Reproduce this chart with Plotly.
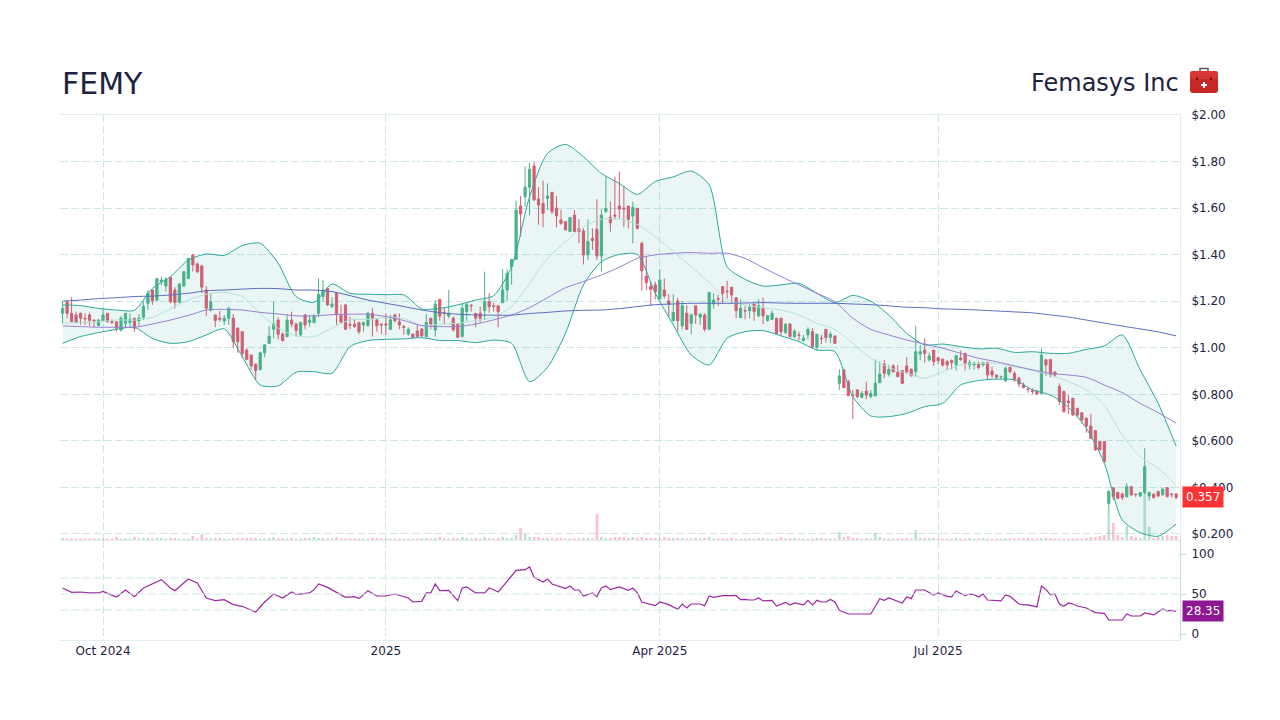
import base64
import pandas as pd
import plotly.graph_objects as go

# trading days
holidays = ["2024-11-28", "2024-12-25", "2025-01-01", "2025-01-09", "2025-01-20", "2025-02-17",
            "2025-04-18", "2025-05-26", "2025-06-19", "2025-07-04", "2025-09-01"]
days = pd.bdate_range("2024-09-18", "2025-09-16")
dates = [d.strftime("%Y-%m-%d") for d in days if d.strftime("%Y-%m-%d") not in holidays]

opens = [1.148, 1.198, 1.148, 1.141, 1.148, 1.127, 1.141, 1.119, 1.095, 1.117,
         1.148, 1.112, 1.111, 1.076, 1.105, 1.108, 1.127, 1.115, 1.131, 1.191,
         1.248, 1.205, 1.284, 1.265, 1.303, 1.248, 1.195, 1.265, 1.298, 1.399,
         1.36, 1.351, 1.248, 1.162, 1.141, 1.127, 1.115, 1.127, 1.127, 1.084,
         1.069, 0.99, 0.969, 0.93, 0.907, 0.979, 1.019, 1.079, 1.119, 1.059,
         1.048, 1.119, 1.102, 1.055, 1.141, 1.108, 1.108, 1.148, 1.22, 1.255,
         1.177, 1.234, 1.14, 1.184, 1.1, 1.101, 1.109, 1.098, 1.095, 1.148,
         1.12, 1.102, 1.102, 1.079, 1.141, 1.112, 1.091, 1.059, 1.059, 1.072,
         1.081, 1.048, 1.127, 1.076, 1.208, 1.15, 1.136, 1.127, 1.101, 1.048,
         1.155, 1.182, 1.148, 1.148, 1.16, 1.198, 1.18, 1.18, 1.194, 1.248,
         1.348, 1.38, 1.609, 1.649, 1.69, 1.781, 1.639, 1.62, 1.642, 1.668,
         1.6, 1.549, 1.542, 1.499, 1.57, 1.511, 1.502, 1.399, 1.47, 1.509,
         1.394, 1.585, 1.56, 1.57, 1.609, 1.6, 1.609, 1.566, 1.599, 1.449,
         1.308, 1.263, 1.27, 1.212, 1.248, 1.201, 1.117, 1.201, 1.094, 1.148,
         1.105, 1.18, 1.131, 1.141, 1.079, 1.188, 1.211, 1.263, 1.243, 1.26,
         1.215, 1.13, 1.16, 1.159, 1.188, 1.137, 1.17, 1.117, 1.122, 1.127,
         1.127, 1.065, 1.102, 1.048, 1.055, 1.031, 1.055, 1.069, 1.002, 1.041,
         1.079, 1.045, 1.051, 0.847, 0.905, 0.854, 0.797, 0.819, 0.787, 0.814,
         0.79, 0.794, 0.85, 0.93, 0.886, 0.922, 0.894, 0.902, 0.922, 0.907,
         0.897, 0.973, 0.99, 0.948, 0.99, 0.957, 0.95, 0.94, 0.945, 0.926,
         0.956, 0.976, 0.926, 0.926, 0.933, 0.926, 0.937, 0.9, 0.883, 0.875,
         0.857, 0.916, 0.89, 0.869, 0.84, 0.822, 0.815, 0.814, 0.804, 0.948,
         0.95, 0.896, 0.833, 0.812, 0.771, 0.783, 0.74, 0.721, 0.697, 0.664,
         0.644, 0.597, 0.597, 0.331, 0.399, 0.379, 0.372, 0.36, 0.403, 0.371,
         0.363, 0.378, 0.363, 0.371, 0.382, 0.368, 0.399, 0.372, 0.372]
closes = [1.169, 1.148, 1.112, 1.108, 1.127, 1.124, 1.117, 1.115, 1.119, 1.141,
          1.112, 1.108, 1.084, 1.127, 1.148, 1.122, 1.084, 1.127, 1.177, 1.234,
          1.202, 1.298, 1.291, 1.294, 1.198, 1.195, 1.274, 1.327, 1.384, 1.356,
          1.327, 1.26, 1.17, 1.198, 1.117, 1.122, 1.127, 1.169, 1.026, 1.026,
          0.976, 0.95, 0.922, 0.902, 0.979, 1.012, 1.05, 1.102, 1.058, 1.031,
          1.119, 1.102, 1.074, 1.109, 1.098, 1.119, 1.136, 1.229, 1.248, 1.184,
          1.188, 1.141, 1.11, 1.079, 1.097, 1.091, 1.069, 1.109, 1.148, 1.127,
          1.094, 1.098, 1.098, 1.12, 1.116, 1.098, 1.087, 1.079, 1.045, 1.048,
          1.051, 1.109, 1.102, 1.188, 1.136, 1.147, 1.148, 1.077, 1.045, 1.17,
          1.186, 1.18, 1.127, 1.127, 1.198, 1.177, 1.177, 1.155, 1.248, 1.32,
          1.38, 1.592, 1.575, 1.69, 1.767, 1.635, 1.613, 1.578, 1.652, 1.585,
          1.566, 1.535, 1.506, 1.56, 1.499, 1.499, 1.399, 1.456, 1.46, 1.394,
          1.57, 1.599, 1.537, 1.566, 1.595, 1.596, 1.552, 1.603, 1.513, 1.331,
          1.28, 1.251, 1.241, 1.291, 1.222, 1.188, 1.151, 1.117, 1.18, 1.079,
          1.141, 1.141, 1.145, 1.079, 1.238, 1.205, 1.209, 1.234, 1.241, 1.227,
          1.159, 1.17, 1.158, 1.174, 1.155, 1.18, 1.137, 1.138, 1.148, 1.062,
          1.069, 1.101, 1.048, 1.072, 1.053, 1.041, 1.079, 1.005, 1.058, 1.039,
          1.043, 1.058, 1.019, 0.879, 0.829, 0.794, 0.795, 0.79, 0.804, 0.797,
          0.804, 0.847, 0.887, 0.89, 0.907, 0.897, 0.876, 0.847, 0.897, 0.879,
          0.983, 0.983, 0.976, 0.965, 0.94, 0.945, 0.926, 0.926, 0.936, 0.966,
          0.948, 0.933, 0.936, 0.933, 0.915, 0.936, 0.883, 0.883, 0.873, 0.877,
          0.912, 0.897, 0.865, 0.844, 0.829, 0.821, 0.813, 0.801, 0.969, 0.926,
          0.883, 0.883, 0.769, 0.726, 0.764, 0.711, 0.711, 0.69, 0.664, 0.611,
          0.561, 0.561, 0.511, 0.382, 0.36, 0.353, 0.356, 0.403, 0.368, 0.37,
          0.378, 0.489, 0.378, 0.356, 0.363, 0.393, 0.36, 0.37, 0.357]
highs = [1.198, 1.205, 1.217, 1.155, 1.151, 1.148, 1.151, 1.122, 1.124, 1.169,
         1.148, 1.122, 1.115, 1.137, 1.148, 1.148, 1.127, 1.145, 1.198, 1.248,
         1.248, 1.298, 1.305, 1.303, 1.303, 1.26, 1.277, 1.327, 1.384, 1.403,
         1.366, 1.356, 1.265, 1.234, 1.141, 1.158, 1.141, 1.177, 1.145, 1.088,
         1.069, 0.998, 0.969, 0.93, 0.983, 1.016, 1.094, 1.198, 1.131, 1.065,
         1.145, 1.155, 1.108, 1.109, 1.145, 1.141, 1.145, 1.298, 1.291, 1.258,
         1.217, 1.234, 1.185, 1.188, 1.134, 1.125, 1.109, 1.112, 1.155, 1.17,
         1.12, 1.102, 1.148, 1.141, 1.148, 1.148, 1.098, 1.088, 1.059, 1.098,
         1.084, 1.145, 1.127, 1.205, 1.208, 1.174, 1.248, 1.134, 1.105, 1.191,
         1.194, 1.188, 1.148, 1.177, 1.327, 1.234, 1.194, 1.18, 1.337, 1.337,
         1.38, 1.632, 1.652, 1.778, 1.795, 1.798, 1.69, 1.718, 1.706, 1.668,
         1.652, 1.592, 1.542, 1.56, 1.592, 1.552, 1.513, 1.552, 1.513, 1.638,
         1.595, 1.735, 1.628, 1.735, 1.757, 1.695, 1.609, 1.628, 1.599, 1.456,
         1.391, 1.284, 1.284, 1.337, 1.298, 1.23, 1.23, 1.215, 1.201, 1.184,
         1.148, 1.184, 1.145, 1.148, 1.238, 1.234, 1.227, 1.263, 1.288, 1.26,
         1.215, 1.208, 1.18, 1.188, 1.188, 1.208, 1.215, 1.138, 1.16, 1.127,
         1.127, 1.105, 1.105, 1.079, 1.069, 1.055, 1.088, 1.084, 1.059, 1.055,
         1.079, 1.069, 1.051, 0.908, 0.905, 0.862, 0.819, 0.822, 0.816, 0.854,
         0.819, 0.95, 0.94, 0.948, 0.926, 0.929, 0.926, 0.905, 0.959, 0.912,
         1.095, 1.012, 1.041, 0.979, 0.99, 0.96, 0.955, 0.948, 0.95, 0.97,
         0.988, 0.976, 0.948, 0.94, 0.94, 0.94, 0.94, 0.919, 0.883, 0.879,
         0.919, 0.919, 0.9, 0.876, 0.85, 0.833, 0.826, 0.816, 0.998, 0.95,
         0.95, 0.899, 0.847, 0.816, 0.797, 0.783, 0.74, 0.721, 0.701, 0.716,
         0.644, 0.597, 0.597, 0.39, 0.399, 0.379, 0.378, 0.418, 0.403, 0.372,
         0.382, 0.568, 0.382, 0.375, 0.386, 0.396, 0.399, 0.375, 0.375]
lows = [1.105, 1.127, 1.112, 1.105, 1.098, 1.098, 1.094, 1.088, 1.094, 1.112,
        1.108, 1.102, 1.069, 1.069, 1.088, 1.088, 1.069, 1.088, 1.119, 1.162,
        1.184, 1.198, 1.27, 1.241, 1.191, 1.169, 1.191, 1.263, 1.294, 1.327,
        1.32, 1.234, 1.137, 1.155, 1.088, 1.112, 1.098, 1.098, 0.998, 0.979,
        0.955, 0.947, 0.905, 0.862, 0.902, 0.959, 1.016, 1.041, 1.036, 1.026,
        1.045, 1.088, 1.048, 1.052, 1.079, 1.091, 1.105, 1.131, 1.198, 1.18,
        1.17, 1.098, 1.11, 1.076, 1.08, 1.086, 1.058, 1.069, 1.091, 1.048,
        1.069, 1.059, 1.055, 1.076, 1.108, 1.079, 1.055, 1.051, 1.041, 1.045,
        1.045, 1.045, 1.079, 1.048, 1.116, 1.102, 1.126, 1.069, 1.041, 1.045,
        1.116, 1.155, 1.088, 1.108, 1.12, 1.151, 1.155, 1.088, 1.191, 1.202,
        1.27, 1.377, 1.477, 1.606, 1.57, 1.632, 1.528, 1.518, 1.592, 1.575,
        1.518, 1.528, 1.506, 1.499, 1.499, 1.449, 1.358, 1.377, 1.42, 1.377,
        1.327, 1.58, 1.499, 1.552, 1.556, 1.518, 1.513, 1.449, 1.509, 1.245,
        1.248, 1.18, 1.208, 1.205, 1.212, 1.131, 1.112, 1.069, 1.079, 1.076,
        1.058, 1.102, 1.098, 1.069, 1.076, 1.169, 1.18, 1.188, 1.212, 1.188,
        1.127, 1.127, 1.122, 1.127, 1.116, 1.131, 1.102, 1.112, 1.119, 1.055,
        1.051, 1.059, 1.045, 1.041, 1.031, 1.026, 1.036, 0.998, 0.988, 1.016,
        1.022, 1.019, 1.019, 0.819, 0.826, 0.793, 0.693, 0.783, 0.783, 0.779,
        0.783, 0.79, 0.847, 0.869, 0.876, 0.893, 0.873, 0.844, 0.887, 0.876,
        0.876, 0.945, 0.936, 0.94, 0.922, 0.93, 0.919, 0.905, 0.907, 0.902,
        0.945, 0.902, 0.907, 0.905, 0.907, 0.919, 0.862, 0.869, 0.865, 0.862,
        0.855, 0.89, 0.855, 0.83, 0.826, 0.807, 0.801, 0.797, 0.8, 0.879,
        0.873, 0.873, 0.754, 0.721, 0.716, 0.707, 0.701, 0.675, 0.635, 0.607,
        0.558, 0.56, 0.507, 0.303, 0.346, 0.35, 0.346, 0.358, 0.363, 0.358,
        0.358, 0.372, 0.343, 0.352, 0.358, 0.365, 0.358, 0.356, 0.349]
volumes = [0.2, 0.15, 0.15, 0.15, 0.15, 0.15, 0.15, 0.15, 0.15, 0.15,
           0.15, 0.15, 0.3, 0.15, 0.15, 0.15, 0.3, 0.15, 0.2, 0.2,
           0.15, 0.2, 0.2, 0.15, 0.2, 0.2, 0.15, 0.15, 0.15, 0.4,
           0.15, 0.6, 0.2, 0.15, 0.2, 0.2, 0.15, 0.15, 0.2, 0.2,
           0.2, 0.2, 0.2, 0.2, 0.15, 0.15, 0.2, 0.3, 0.15, 0.15,
           0.15, 0.2, 0.15, 0.15, 0.2, 0.2, 0.3, 0.2, 0.2, 0.15,
           0.15, 0.3, 0.15, 0.15, 0.15, 0.15, 0.15, 0.15, 0.15, 0.2,
           0.2, 0.15, 0.15, 0.15, 0.15, 0.15, 0.15, 0.15, 0.15, 0.15,
           0.15, 0.2, 0.15, 0.2, 0.3, 0.15, 0.15, 0.2, 0.15, 0.3,
           0.2, 0.15, 0.2, 0.15, 0.3, 0.2, 0.15, 0.2, 0.3, 0.2,
           0.2, 0.5, 1.2, 0.6, 0.3, 0.3, 0.3, 0.2, 0.2, 0.2,
           0.2, 0.2, 0.15, 0.15, 0.15, 0.15, 0.2, 0.2, 0.15, 2.6,
           0.3, 0.2, 0.2, 0.3, 0.3, 0.3, 0.2, 0.3, 0.2, 0.3,
           0.2, 0.2, 0.2, 0.2, 0.3, 0.2, 0.2, 0.2, 0.2, 0.15,
           0.15, 0.2, 0.15, 0.2, 0.3, 0.15, 0.15, 0.15, 0.15, 0.2,
           0.15, 0.15, 0.15, 0.15, 0.15, 0.2, 0.2, 0.15, 0.15, 0.15,
           0.3, 0.15, 0.2, 0.2, 0.15, 0.15, 0.15, 0.15, 0.2, 0.2,
           0.15, 0.15, 0.15, 0.8, 0.3, 0.4, 0.2, 0.2, 0.15, 0.2,
           0.15, 0.7, 0.3, 0.15, 0.15, 0.15, 0.15, 0.15, 0.2, 0.15,
           1.0, 0.2, 0.2, 0.2, 0.2, 0.15, 0.15, 0.15, 0.15, 0.2,
           0.15, 0.15, 0.2, 0.15, 0.15, 0.2, 0.15, 0.15, 0.15, 0.15,
           0.15, 0.2, 0.15, 0.15, 0.2, 0.2, 0.15, 0.15, 0.2, 0.2,
           0.15, 0.15, 0.15, 0.15, 0.15, 0.15, 0.15, 0.15, 0.2, 0.3,
           0.3, 0.4, 0.5, 3.0, 1.7, 0.5, 0.3, 1.4, 0.4, 0.3,
           0.2, 4.8, 1.3, 0.2, 0.3, 0.4, 0.5, 0.4, 0.4]

# indicators read every 4th session
band_upper = [1.184, 1.181, 1.169, 1.162, 1.161, 1.255, 1.305, 1.377, 1.403, 1.397, 1.439, 1.449, 1.363, 1.22, 1.195, 1.274,
              1.234, 1.23, 1.228, 1.227, 1.167, 1.169, 1.184, 1.205, 1.224, 1.348, 1.649, 1.835, 1.874, 1.821, 1.749, 1.706, 1.659, 1.714,
              1.734, 1.759, 1.70, 1.348, 1.294, 1.265, 1.27, 1.277, 1.234, 1.194, 1.225, 1.2, 1.141, 1.062, 1.012,
              1.016, 1.005, 0.995, 0.998, 0.98, 0.983, 0.976, 0.976, 0.993, 1.008, 1.055, 0.905, 0.761, 0.578]
band_lower = [1.019, 1.048, 1.065, 1.079, 1.088, 1.04, 1.019, 1.026, 1.055, 1.081, 0.962, 0.84, 0.836, 0.895, 0.897, 0.89,
              1.005, 1.031, 1.036, 1.038, 1.043, 1.031, 1.031, 1.022, 1.033, 1.019, 0.854, 0.916, 1.062, 1.27, 1.37, 1.401, 1.401, 1.234,
              1.098, 0.969, 0.926, 1.041, 1.069, 1.074, 1.051, 1.026, 0.99, 0.983, 0.79, 0.707, 0.704, 0.718, 0.747,
              0.761, 0.84, 0.859, 0.865, 0.862, 0.819, 0.797, 0.744, 0.654, 0.504, 0.26, 0.206, 0.19, 0.243]
band_mid = [1.105, 1.108, 1.112, 1.119, 1.119, 1.131, 1.167, 1.205, 1.23, 1.238, 1.22, 1.148, 1.084, 1.051, 1.048, 1.084,
            1.12, 1.122, 1.129, 1.126, 1.094, 1.101, 1.105, 1.117, 1.131, 1.177, 1.277, 1.384, 1.456, 1.52, 1.552, 1.552, 1.53, 1.477,
            1.413, 1.348, 1.28, 1.205, 1.184, 1.172, 1.162, 1.141, 1.105, 1.079, 1.019, 0.955, 0.916, 0.89, 0.869,
            0.897, 0.926, 0.933, 0.933, 0.919, 0.902, 0.883, 0.855, 0.819, 0.754, 0.625, 0.532, 0.482, 0.41]
sma_50 = [1.094, 1.091, 1.088, 1.088, 1.088, 1.102, 1.119, 1.139, 1.162, 1.165, 1.162, 1.152, 1.145, 1.137, 1.137, 1.142,
          1.144, 1.144, 1.134, 1.117, 1.095, 1.091, 1.091, 1.102, 1.12, 1.141, 1.172, 1.215, 1.258, 1.284, 1.313, 1.346, 1.384, 1.399,
          1.406, 1.409, 1.406, 1.406, 1.384, 1.344, 1.306, 1.27, 1.234, 1.198, 1.127, 1.079, 1.055, 1.033, 1.016,
          0.998, 0.976, 0.955, 0.94, 0.922, 0.905, 0.89, 0.883, 0.873, 0.84, 0.807, 0.761, 0.721, 0.676]
sma_200 = [1.2, 1.205, 1.211, 1.215, 1.22, 1.222, 1.227, 1.234, 1.245, 1.248, 1.252, 1.255, 1.254, 1.248, 1.248, 1.241,
           1.224, 1.205, 1.191, 1.177, 1.162, 1.151, 1.144, 1.141, 1.14, 1.14, 1.147, 1.152, 1.158, 1.161, 1.162, 1.168, 1.177, 1.185,
           1.188, 1.191, 1.191, 1.191, 1.192, 1.194, 1.192, 1.191, 1.191, 1.191, 1.188, 1.185, 1.18, 1.174, 1.172,
           1.167, 1.165, 1.162, 1.158, 1.154, 1.15, 1.141, 1.132, 1.119, 1.106, 1.093, 1.081, 1.068, 1.051]
band_dates = dates[::4]

rsi_idx = [0, 2, 4, 6, 8, 9, 10, 12, 14, 16, 18, 20, 22, 24, 25, 28, 30, 32, 34, 36, 38, 40, 43, 45, 47, 49, 51, 52,
           55, 56, 57, 59, 61, 63, 65, 66, 68, 70, 72, 74, 77, 78, 80, 81, 82, 83, 84, 86, 88, 89, 90, 92, 94, 95, 96,
           97, 99, 100, 101, 103, 104, 105, 107, 108, 109, 112, 113, 114, 115, 116, 118, 119, 120, 121, 122, 124, 126,
           127, 128, 129, 131, 132, 133, 135, 137, 138, 139, 140, 142, 143, 144, 145, 147, 150, 151, 152, 153, 154, 155,
           156, 158, 159, 161, 162, 163, 165, 166, 167, 168, 169, 170, 171, 172, 173, 175, 180, 182, 183, 184, 187, 188,
           189, 190, 192, 194, 195, 197, 198, 199, 201, 202, 203, 204, 205, 206, 209, 210, 211, 213, 214, 215, 217, 218,
           219, 220, 221, 222, 223, 224, 225, 226, 228, 230, 232, 233, 236, 237, 238, 240, 241, 243, 245, 246, 247, 248]
rsi_vals = [57.5, 52.1, 52.5, 51.3, 51.3, 53.3, 50.8, 46.3, 55, 46.7, 57.5, 62.9, 67.9, 57.5, 54.2, 68.8, 63.8, 45, 41.7,
            42.9, 36.7, 34.6, 27.5, 40, 50, 45, 52.5, 49.2, 51.3, 55.4, 62.5, 58.3, 52.1, 45.8, 46.7, 44.2, 54.2, 47.5,
            47.5, 50, 45, 40, 40.8, 51.3, 51.3, 62.5, 54.2, 54.6, 41.7, 57.5, 58.8, 51.3, 51.3, 57.5, 55.4, 52.5, 65.8,
            72.1, 79.6, 80.4, 83.8, 70.8, 65, 68.8, 62.5, 56.7, 60, 55, 55, 47.5, 51.3, 46.7, 57.5, 60, 55.4, 58.8, 54.6,
            57.5, 51.3, 40, 36.7, 35.4, 40, 36.7, 30.8, 37.5, 32.5, 37.5, 37.5, 35.4, 47.5, 45.8, 47.9, 47.9, 42.9, 43.3,
            42.5, 42.5, 45, 41.3, 42.1, 35, 39.6, 36.3, 38.8, 36.3, 42.1, 36.3, 42.1, 40, 40, 43.3, 40, 29.6, 25, 25,
            44.2, 42.1, 45, 38.8, 46.3, 44.2, 55, 55, 48.8, 51.3, 47.1, 46.3, 53.8, 47.9, 50, 49.2, 46.3, 50, 42.5, 41.3,
            48.8, 47.1, 37.5, 36.3, 36.3, 33.8, 60, 55.8, 48.8, 50, 37.5, 34.6, 38.8, 37.5, 35, 32.5, 26.7, 25.8, 17.5,
            17.5, 25, 22.5, 22.5, 26.3, 23.8, 31.3, 28.8, 29.6, 28.35]

price_ticks = [0.2, 0.4, 0.6, 0.8, 1.0, 1.2, 1.4, 1.6, 1.8, 2.0]
price_labels = ["$0.200", "$0.400", "$0.600", "$0.800", "$1.00", "$1.20", "$1.40", "$1.60", "$1.80", "$2.00"]
date_ticks = ["2024-10-01", "2024-12-31", "2025-04-01", "2025-07-01"]
date_labels = ["Oct 2024", "2025", "Apr 2025", "Jul 2025"]
rsi_levels = [30, 50, 70]

INK = "#1d2340"
GRID = "#d0e6ec"
EDGE = "#e3eef3"
GREEN = "#4db388"
RED = "#e05a6f"
GRID_DASH = "8px,3px"

fig = go.Figure()

# volume sits underneath everything
bar_colors = ["rgba(77,179,136,0.38)" if c >= o else "rgba(245,110,130,0.42)" for o, c in zip(opens, closes)]
fig.add_trace(go.Bar(x=dates, y=volumes, marker=dict(color=bar_colors, line_width=0), yaxis="y3"))

# bollinger
fig.add_trace(go.Scatter(x=band_dates, y=band_lower, mode="lines", line=dict(color="#2ba89b", width=1, shape="spline", smoothing=0.7)))
fig.add_trace(go.Scatter(x=band_dates, y=band_upper, mode="lines", line=dict(color="#2ba89b", width=1, shape="spline", smoothing=0.7),
                         fill="tonexty", fillcolor="rgba(38,166,154,0.1)"))
fig.add_trace(go.Scatter(x=band_dates, y=band_mid, mode="lines", line=dict(color="#b5e2da", width=1, shape="spline", smoothing=0.7)))

fig.add_trace(go.Candlestick(x=dates, open=opens, high=highs, low=lows, close=closes, whiskerwidth=0,
                             increasing=dict(line=dict(color=GREEN, width=1), fillcolor=GREEN),
                             decreasing=dict(line=dict(color=RED, width=1), fillcolor=RED)))

fig.add_trace(go.Scatter(x=band_dates, y=sma_50, mode="lines", line=dict(color="#9a7fd1", width=1, shape="spline", smoothing=0.7)))
fig.add_trace(go.Scatter(x=band_dates, y=sma_200, mode="lines", line=dict(color="#5c6bc0", width=1, shape="spline", smoothing=0.7)))

fig.add_trace(go.Scatter(x=[dates[i] for i in rsi_idx], y=rsi_vals, mode="lines",
                         line=dict(color="#9c27a0", width=1.2), xaxis="x2", yaxis="y2"))

x_range = [-0.58, 248.86]
main_bottom = 100 / 525

# the page body adds 8px all round, so the figure is 16px short of the window
fig.update_layout(
    width=1264, height=704, autosize=False,
    margin=dict(l=52, r=92, t=107, b=72),
    paper_bgcolor="white", plot_bgcolor="white",
    showlegend=False, bargap=0.4,
    font=dict(family="DejaVu Sans", color=INK, size=12),
    xaxis=dict(type="category", categoryorder="array", categoryarray=dates, range=x_range, anchor="y",
               rangeslider=dict(visible=False), tickvals=date_ticks, ticktext=date_labels, showticklabels=False,
               ticks="", showgrid=True, gridcolor=GRID, griddash=GRID_DASH, gridwidth=1, zeroline=False,
               showline=True, linecolor=EDGE, mirror=True),
    xaxis2=dict(type="category", categoryorder="array", categoryarray=dates, range=x_range, anchor="y2",
                tickvals=date_ticks, ticktext=date_labels, ticks="", ticklen=0, tickfont=dict(size=12),
                showgrid=True, gridcolor=GRID, griddash=GRID_DASH, gridwidth=1, zeroline=False,
                showline=True, linecolor=EDGE),
    yaxis=dict(domain=[main_bottom, 1], range=[0.174, 2.0], side="right", anchor="x", overlaying="y3",
               tickvals=price_ticks, ticktext=price_labels, ticks="", tickfont=dict(size=12), ticklabelstandoff=8,
               showgrid=True, gridcolor=GRID, griddash=GRID_DASH, gridwidth=1, zeroline=False,
               showline=True, linecolor=EDGE),
    yaxis2=dict(domain=[0, main_bottom], range=[-7.5, 117.5], side="right", anchor="x2",
                tickvals=[0, 50, 100], ticks="outside", ticklen=5, tickcolor="#c4dbe3", tickfont=dict(size=12),
                ticklabelstandoff=3, showgrid=False, zeroline=False, showline=True, linecolor="#c4dbe3"),
    yaxis3=dict(domain=[main_bottom, 1], range=[0, 42.5], anchor="x", side="left", visible=False),
    shapes=[dict(type="line", xref="x2 domain", yref="y2", x0=0, x1=1, y0=v, y1=v,
                 line=dict(color=GRID, width=1, dash=GRID_DASH)) for v in rsi_levels],
)

# header
fig.add_annotation(text="FEMY", xref="paper", yref="paper", x=0, y=557 / 525, xanchor="left", yanchor="middle",
                   showarrow=False, font=dict(size=30, color=INK))
fig.add_annotation(text="Femasys Inc", xref="paper", yref="paper", x=1121 / 1120, y=557 / 525, xanchor="right",
                   yanchor="middle", showarrow=False, font=dict(size=24, color=INK))

icon = ('<svg xmlns="http://www.w3.org/2000/svg" viewBox="0 0 28 28">'
        '<path d="M10 6V2.5h8V6" fill="none" stroke="#5a5560" stroke-width="1.5"/>'
        '<rect x="0" y="5" width="28" height="22" rx="3" fill="#c62828"/>'
        '<rect x="0" y="5" width="28" height="8" rx="3" fill="#d93636"/>'
        '<rect x="6" y="11" width="2" height="3" fill="#7a1414"/><rect x="20" y="11" width="2" height="3" fill="#7a1414"/>'
        '<path d="M14 16v6M11 19h6" stroke="#fff" stroke-width="1.8"/></svg>')
fig.add_layout_image(source="data:image/svg+xml;base64," + base64.b64encode(icon.encode()).decode(),
                     xref="paper", yref="paper", x=1130 / 1120, y=(640 - 66) / 525,
                     sizex=28 / 1120, sizey=28 / 525, xanchor="left", yanchor="top", sizing="stretch", layer="above")

# last value tags
fig.add_annotation(text="0.357", xref="paper", yref="y", x=1.0018, y=closes[-1], xanchor="left", yanchor="middle",
                   showarrow=False, bgcolor="#ff3333", font=dict(color="white", size=12), borderpad=3)
fig.add_annotation(text="28.35", xref="paper", yref="y2", x=1.0018, y=rsi_vals[-1], xanchor="left", yanchor="middle",
                   showarrow=False, bgcolor="#8e1793", font=dict(color="white", size=12), borderpad=3)

fig.write_html("out.html")
